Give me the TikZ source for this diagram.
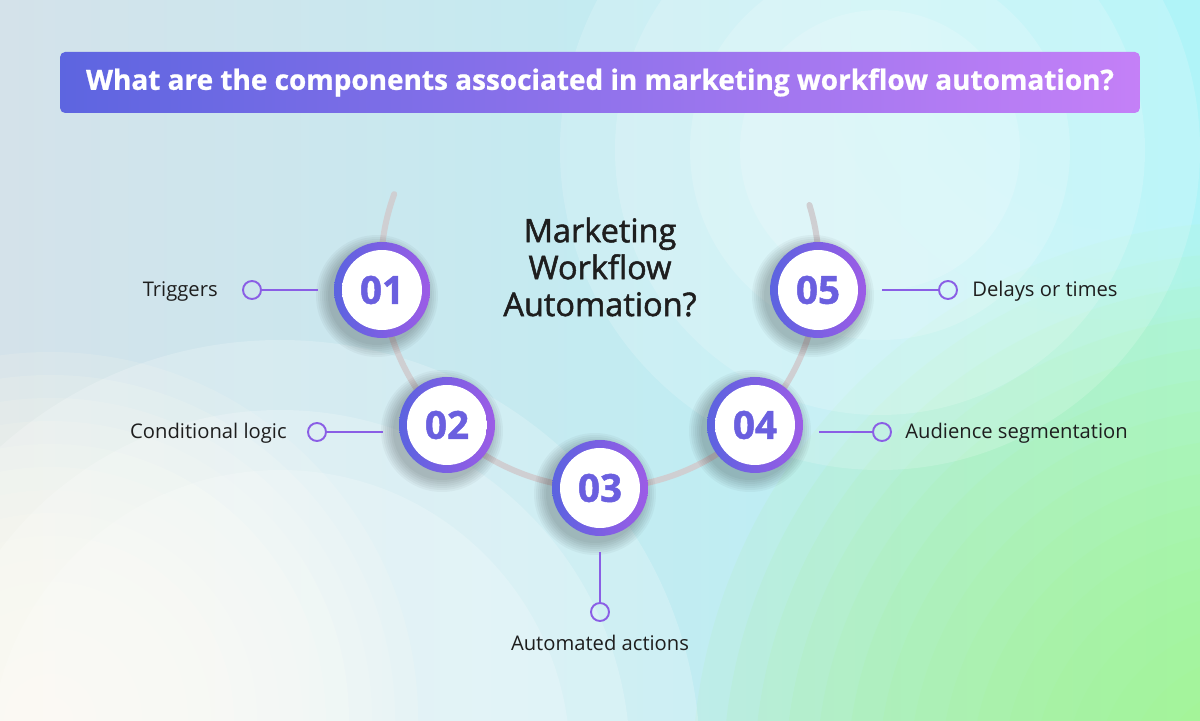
\documentclass[tikz,border=0pt]{standalone}
\usepackage{fontspec}
\setmainfont{Open Sans}
\newfontfamily\midfont{Open Sans}[FakeBold=1.5]
\usetikzlibrary{positioning}

\definecolor{my_bgleft}{HTML}{D4E2EA}
\definecolor{my_bgmid}{HTML}{BCE2FA}
\definecolor{my_bgright}{HTML}{B3F4F8}
\definecolor{my_bgcyan}{HTML}{B0FAFC}
\definecolor{my_bggreen}{HTML}{A4F584}
\definecolor{my_bgcream}{HTML}{FFFDEE}
\definecolor{my_barleft}{HTML}{5D65E0}
\definecolor{my_barmid}{HTML}{7C61E4}
\definecolor{my_barright}{HTML}{C480F7}
\definecolor{my_ringblue}{HTML}{5B63E0}
\definecolor{my_ringpurple}{HTML}{9C5CE6}
\definecolor{my_number}{HTML}{6A5FDF}
\definecolor{my_link}{HTML}{8A5EE5}
\definecolor{my_track}{HTML}{CFCFD2}
\definecolor{my_text}{HTML}{1E1E1E}

\pgfdeclareradialshading{stepdisk}{\pgfpointorigin}{color(0bp)=(white); color(36bp)=(white); color(50bp)=(black!15)}

\begin{document}
\begin{tikzpicture}[
    x=0.02cm, y=0.02cm,
    track/.style={line width=3.4pt, my_track, line cap=round},
    stepring/.style={circle, minimum size=1.92cm, inner sep=0pt,
        left color=my_ringblue, right color=my_ringpurple},
    stepdisc/.style={circle, minimum size=1.6cm, inner sep=0pt, shade, shading=stepdisk,
        font=\bfseries\fontsize{22}{24}\selectfont\addfontfeature{FakeBold=1.2}, text=my_number},
    dotnode/.style={circle, draw=my_link, line width=1.1pt, minimum size=0.36cm, inner sep=0pt},
    linkline/.style={my_link, line width=1.1pt, shorten <=0.32cm},
    lbl/.style={font=\fontsize{11.5}{14}\selectfont, text=my_text, inner sep=0pt}
]
\useasboundingbox (0,0) rectangle (1200,720);

% background
\begin{scope}
    \clip (0,0) rectangle (1200,720);
    \shade[left color=my_bgleft, middle color=my_bgmid, right color=my_bgright] (0,0) rectangle (1200,720);
    \foreach \k in {1,...,18}
        \fill[my_bggreen, opacity=0.09] (1250,-60) circle ({31*\k});
    \foreach \k in {1,...,10}
        \fill[my_bgcyan, opacity=0.1] (1120,700) circle ({30*\k});
    \foreach \k in {1,...,16}
        \fill[my_bgcream, opacity=0.14] (50,0) circle ({23*\k});
    % soft rings
    \foreach \r in {140,190,265,320}
        \fill[white, opacity=0.17] (880,570) circle (\r);
    \foreach \r in {290,350,420}
        \fill[white, opacity=0.2] (280,-40) circle (\r);
\end{scope}

% title bar
\node[minimum width=21.6cm, minimum height=1.22cm, rounded corners=0.1cm,
    left color=my_barleft, middle color=my_barmid, right color=my_barright,
    text=white, font=\bfseries\fontsize{15.9}{18}\selectfont\addfontfeature{FakeBold=0.8}] (title) at (600,637.5)
    {What are the components associated in marketing workflow automation?};

% grey track through the steps
\draw[track] (394.2,525.9) arc[start angle=160, end angle=377, radius=219];

\node[font=\midfont\fontsize{18.5}{21}\selectfont, text=my_text, align=center] (center) at (600,453)
    {Marketing\\Workflow\\Automation?};

% steps
\foreach \n/\px/\py in {1/382/430, 2/447/295, 3/600/232, 4/755/295, 5/818/430} {
    \foreach \k in {0,...,6}
        \fill[black, opacity=0.035] (\px-5,\py-6) circle ({49+2*\k});
    \node[stepring] (r\n) at (\px,\py) {};
    \node[stepdisc] (s\n) at (\px,\py) {0\n};
}

% dots and labels
\node[dotnode] (d1) at (252,430) {};
\node[dotnode] (d2) at (317,288) {};
\node[dotnode] (d3) at (600,108) {};
\node[dotnode] (d4) at (882,288) {};
\node[dotnode] (d5) at (948,430) {};

\node[lbl, anchor=base east] (l1) at (218,423) {Triggers};
\node[lbl, anchor=base east] (l2) at (287,281) {Conditional logic};
\node[lbl, anchor=base] (l3) at (600,69) {Automated actions};
\node[lbl, anchor=base west] (l4) at (905,281) {Audience segmentation};
\node[lbl, anchor=base west] (l5) at (972,423) {Delays or times};

\draw[linkline] (r1.west |- d1) -- (d1);
\draw[linkline] (r2.west |- d2) -- (d2);
\draw[linkline] (r3.south) -- (d3);
\draw[linkline] (r4.east |- d4) -- (d4);
\draw[linkline] (r5.east |- d5) -- (d5);

\end{tikzpicture}
\end{document}
